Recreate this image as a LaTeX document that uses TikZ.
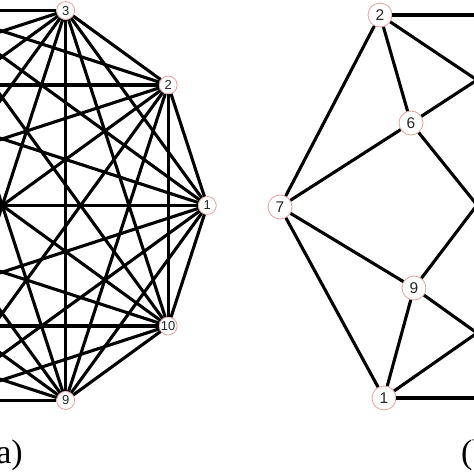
\documentclass[tikz,border=0pt]{standalone}
\usepackage{fontspec}
\setmainfont{Liberation Serif}
\newfontfamily\nodefont{Liberation Sans}
\definecolor{ringc}{RGB}{228,160,160}
\begin{document}
\begin{tikzpicture}[x=1pt,y=-1pt,
  edge/.style={line width=3.1pt, black},
  lnode/.style={circle, draw=ringc, line width=0.8pt, fill=white, minimum size=18pt, inner sep=0pt,
    font=\nodefont\fontsize{13}{13}\selectfont, text=black!85},
  rnode/.style={circle, draw=ringc, line width=0.8pt, fill=white, minimum size=24pt, inner sep=0pt,
    font=\nodefont\fontsize{15.5}{16}\selectfont, text=black!85},
  lab/.style={inner sep=0pt, font=\fontsize{34}{36}\selectfont}]
\useasboundingbox (0,0) rectangle (474,474);
\clip (0,0) rectangle (474,474);
% ---- (a) complete graph on 10 vertices
\foreach \i in {1,...,10} {
  \coordinate (p\i) at ({2.3+205*cos((\i-1)*36)},{205.5-205*sin((\i-1)*36)});
}
\node[lnode] (a1) at (p1) {1};
\node[lnode] (a2) at (p2) {2};
\node[lnode] (a3) at (p3) {3};
\node[lnode] (a9) at (p9) {9};
\node[lnode] (a10) at (p10) {10};
\foreach \i in {4,...,8} { \coordinate (a\i) at (p\i); }
\foreach \i in {1,...,9} {
  \pgfmathtruncatemacro\s{\i+1}
  \foreach \j in {\s,...,10} { \draw[edge] (a\i) -- (a\j); }
}
% ---- (b)
\node[rnode] (b2) at (380,15) {2};
\node[rnode] (b6) at (411,123) {6};
\node[rnode] (b7) at (280,207) {7};
\node[rnode] (b9) at (414,288) {9};
\node[rnode] (b1) at (384,398) {1};
\coordinate (bA) at (477,80);
\coordinate (bB) at (477,205);
\coordinate (bC) at (477,333);
\coordinate (bR2) at (500,15);
\coordinate (bR1) at (500,398);
\draw[edge] (b2) -- (bR2);
\draw[edge] (b2) -- (bA);
\draw[edge] (b2) -- (b6);
\draw[edge] (b2) -- (b7);
\draw[edge] (b6) -- (bA);
\draw[edge] (b6) -- (b7);
\draw[edge] (b6) -- (bB);
\draw[edge] (b7) -- (b9);
\draw[edge] (b7) -- (b1);
\draw[edge] (b9) -- (bB);
\draw[edge] (b9) -- (bC);
\draw[edge] (b9) -- (b1);
\draw[edge] (b1) -- (bC);
\draw[edge] (b1) -- (bR1);
% ---- labels
\node[lab, anchor=base east] (la) at (23,463) {(a)};
\node[lab, anchor=base west] (lb) at (461,463) {(b)};
\end{tikzpicture}
\end{document}
